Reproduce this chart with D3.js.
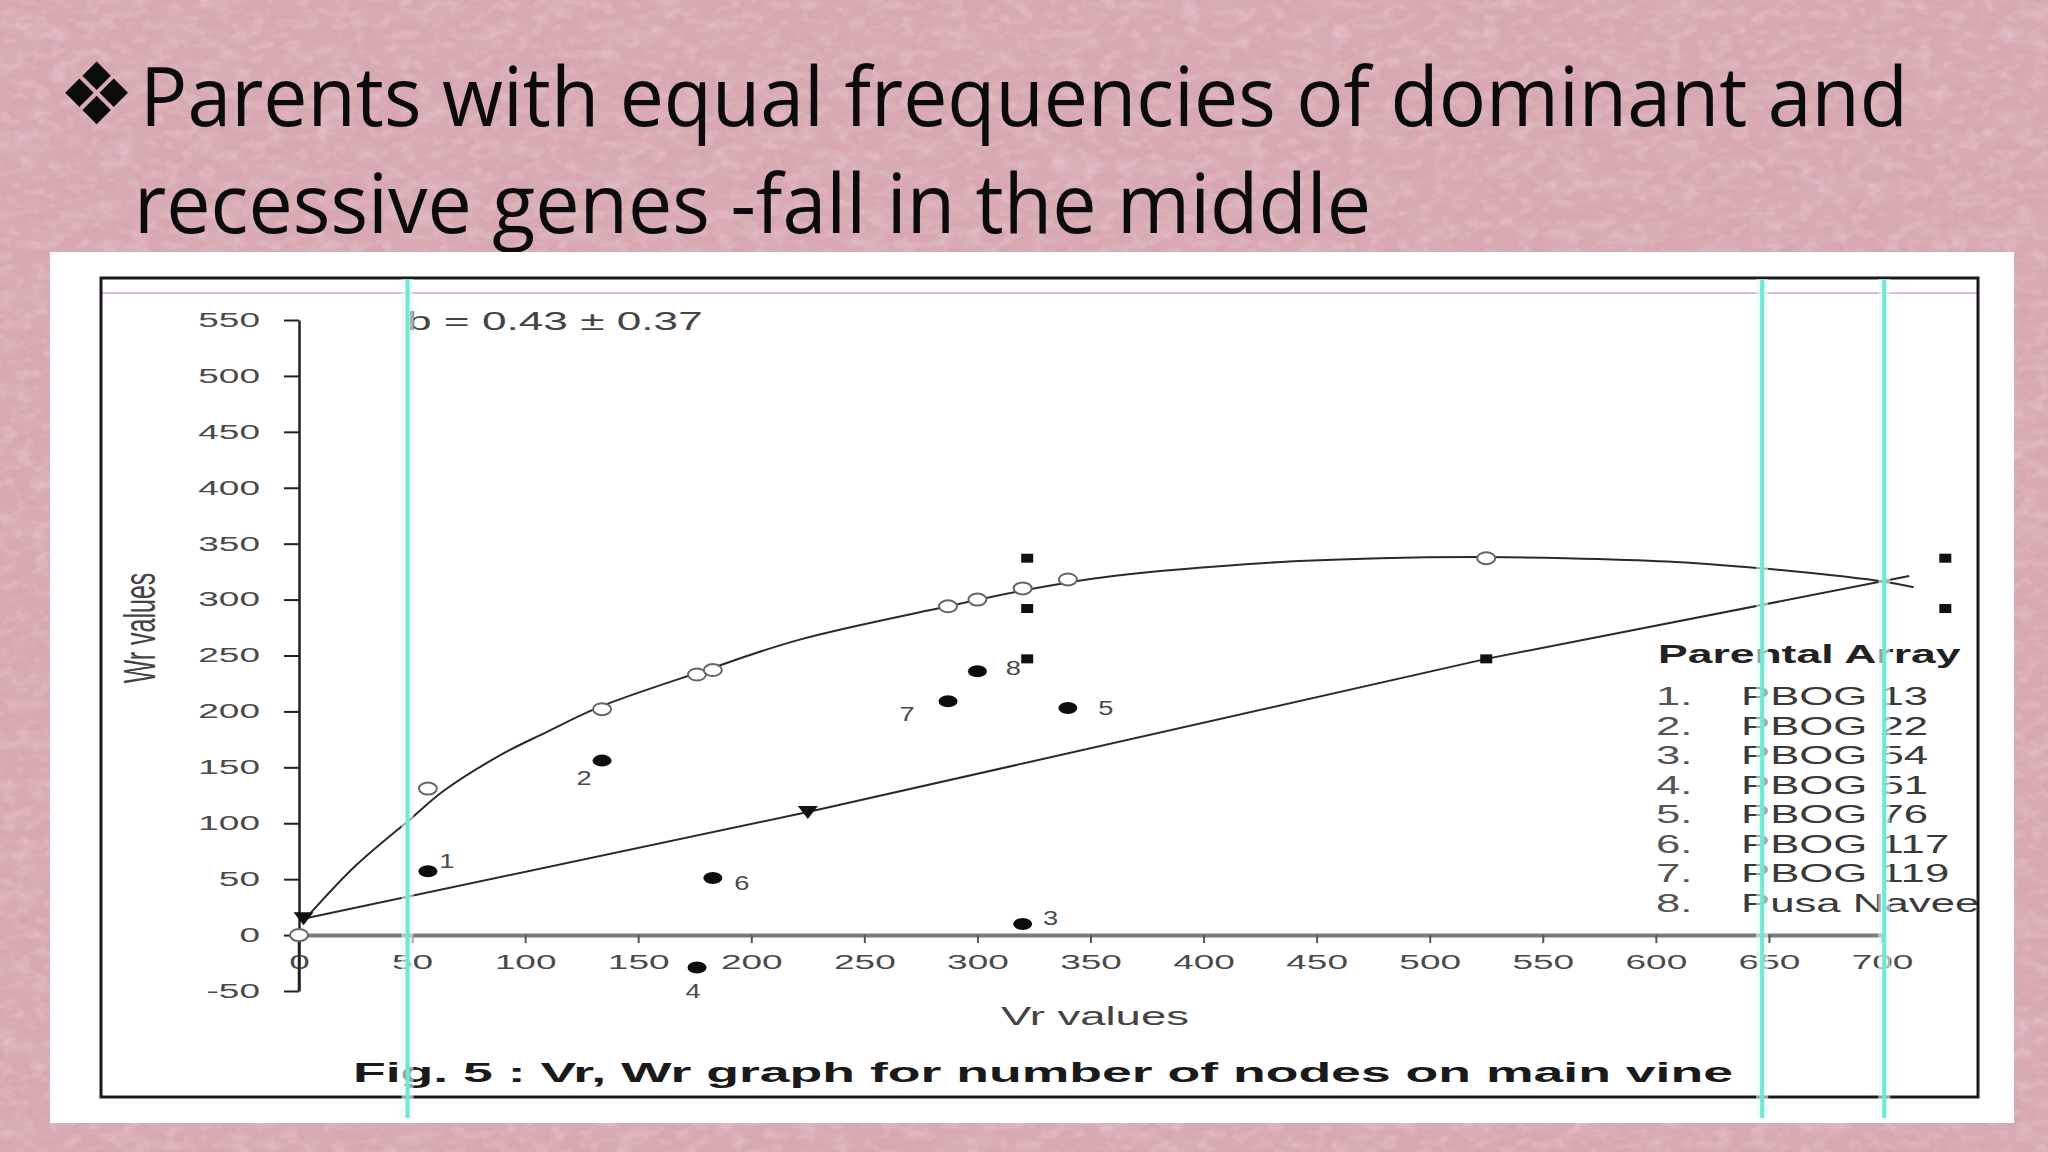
<!DOCTYPE html>
<html>
<head>
<meta charset="utf-8">
<script src="https://cdn.jsdelivr.net/npm/d3@7/dist/d3.min.js"></script>
<style>
  body { margin: 0; background: #d8a7ae; }
  svg { display: block; }
</style>
</head>
<body>
<svg id="slide" width="2048" height="1152"></svg>
<script>
// parents: Vr, Wr (filled dots with their number)
const parentNo = ["1", "2", "3", "4", "5", "6", "7", "8"];
const parentVr = [57, 134, 320, 176, 340, 183, 287, 300];
const parentWr = [57, 156, 10, -29, 203, 51, 209, 236];

// points on the limiting curve (open circles)
const openVr = [0, 57, 134, 176, 183, 287, 300, 320, 340, 525];
const openWr = [0, 131, 202, 233, 237, 294, 300, 310, 318, 337];

// limiting curve
const curveVr = [3, 25, 50, 64, 90, 109, 133, 180, 221, 287, 320, 360, 429, 478, 525, 560, 605, 646, 672, 701, 714];
const curveWr = [15, 62, 105, 129, 162, 181, 204, 237, 264, 294, 308, 321, 333, 337, 338, 337, 334, 328, 323, 316, 311];

// regression line, b = 0.43
const lineVr = [3, 225, 525, 712];
const lineWr = [15, 110, 247, 321];

// filled triangles and squares
const triVr = [2, 225];
const triWr = [15, 110];
const squareVr = [322, 322, 322, 525, 728, 728];
const squareWr = [337, 292, 247, 247, 337, 292];

// the cyan guide lines across the slide
const guideVr = [48, 647, 701];

const xTicks = [0, 50, 100, 150, 200, 250, 300, 350, 400, 450, 500, 550, 600, 650, 700];
const yTicks = [-50, 0, 50, 100, 150, 200, 250, 300, 350, 400, 450, 500, 550];

const legendNo = ["1.", "2.", "3.", "4.", "5.", "6.", "7.", "8."];
const legendName = ["PBOG 13", "PBOG 22", "PBOG 54", "PBOG 51", "PBOG 76", "PBOG 117", "PBOG 119", "Pusa Naveen"];

const titleLines = ["Parents with equal frequencies of dominant and", "recessive genes -fall in the middle"];

// where the number sits next to each parent dot (px)
const labelShift = {
  "1": [19, -11], "2": [-18, 17], "3": [28, -6], "4": [-4, 23],
  "5": [38, 0], "6": [29, 5], "7": [-41, 12], "8": [36, -3]
};

const SX = 1.75; // the pasted figure is stretched sideways
const chartFont = "'Liberation Sans', Arial, sans-serif";

function stretch(sel, sx) {
  sel.attr("transform", function() {
    let t = d3.select(this);
    let x = +t.attr("x") || 0, y = +t.attr("y") || 0;
    return "translate(" + x + "," + y + ") scale(" + sx + ",1) translate(" + (-x) + "," + (-y) + ")";
  });
}

let svg = d3.select("#slide");

// paper background
let defs = svg.append("defs");
let f1 = defs.append("filter").attr("id", "paper").attr("x", 0).attr("y", 0).attr("width", 1).attr("height", 1);
f1.append("feTurbulence").attr("type", "fractalNoise").attr("baseFrequency", "0.02 0.045").attr("numOctaves", 4).attr("seed", 3);
f1.append("feColorMatrix").attr("type", "matrix")
  .attr("values", "0 0 0 0 0.74  0 0 0 0 0.55  0 0 0 0 0.58  1.4 0 0 0 -0.62");
let f2 = defs.append("filter").attr("id", "paper2").attr("x", 0).attr("y", 0).attr("width", 1).attr("height", 1);
f2.append("feTurbulence").attr("type", "fractalNoise").attr("baseFrequency", "0.06 0.1").attr("numOctaves", 3).attr("seed", 9);
f2.append("feColorMatrix").attr("type", "matrix")
  .attr("values", "0 0 0 0 0.94  0 0 0 0 0.8  0 0 0 0 0.83  1.4 0 0 0 -0.62");

svg.append("rect").attr("width", 2048).attr("height", 1152).attr("fill", "#d7a8af");
svg.append("rect").attr("width", 2048).attr("height", 1152).attr("filter", "url(#paper)").attr("opacity", 0.55);
svg.append("rect").attr("width", 2048).attr("height", 1152).attr("filter", "url(#paper2)").attr("opacity", 0.5);

// title
svg.append("text")
  .text("\u2756")
  .attr("x", 58).attr("y", 94)
  .attr("dominant-baseline", "central")
  .style("font-family", "'DejaVu Sans'")
  .style("font-size", "86px")
  .attr("fill", "#0b0b0b");

let titleX = [140, 134], titleY = [126, 233], titleW = [1768, 1237];
svg.selectAll(".title")
  .data(titleLines)
  .join("text")
  .attr("class", "title")
  .text(d => d)
  .attr("x", (d, i) => titleX[i])
  .attr("y", (d, i) => titleY[i])
  .attr("textLength", (d, i) => titleW[i])
  .attr("lengthAdjust", "spacingAndGlyphs")
  .style("font-family", "'Open Sans', sans-serif")
  .style("font-size", "82px")
  .attr("fill", "#0b0b0b");

// pasted figure
svg.append("rect").attr("x", 50).attr("y", 252).attr("width", 1964).attr("height", 871).attr("fill", "#ffffff");

let box = { x: 101, y: 278, w: 1877, h: 819 };
defs.append("clipPath").attr("id", "box")
  .append("rect").attr("x", box.x).attr("y", box.y).attr("width", box.w).attr("height", box.h);

let fig = svg.append("g").attr("clip-path", "url(#box)");

fig.append("line")
  .attr("x1", box.x).attr("x2", box.x + box.w)
  .attr("y1", 293).attr("y2", 293)
  .attr("stroke", "#e2b6dc").attr("stroke-width", 2);

let x = d3.scaleLinear().domain([0, 700]).range([299, 1882]);
let y = d3.scaleLinear().domain([-50, 550]).range([991, 320]);

// axes
let yAxis = fig.append("g")
  .attr("transform", "translate(" + x(0) + ",0)")
  .call(d3.axisLeft(y).tickValues(yTicks).tickFormat(d => String(d))
    .tickSize(15).tickSizeOuter(0).tickPadding(24));
yAxis.select(".domain").attr("stroke", "#222").attr("stroke-width", 2.5);
yAxis.selectAll(".tick line").attr("stroke", "#222").attr("stroke-width", 2);
yAxis.selectAll(".tick text")
  .style("font-family", chartFont).style("font-size", "20px").attr("fill", "#4a4a4a")
  .call(stretch, 1.85);

let xAxis = fig.append("g")
  .attr("transform", "translate(0," + y(0) + ")")
  .call(d3.axisBottom(x).tickValues(xTicks).tickFormat(d => String(d))
    .tickSize(8).tickSizeOuter(0).tickPadding(12));
xAxis.select(".domain").attr("stroke", "#7a7a7a").attr("stroke-width", 4);
xAxis.selectAll(".tick line").attr("stroke", "#555").attr("stroke-width", 2);
xAxis.selectAll(".tick text")
  .style("font-family", chartFont).style("font-size", "20px").attr("fill", "#4a4a4a")
  .call(stretch, 1.85);
// the y axis runs on through the 0 label, as in the picture
fig.append("line")
  .attr("x1", x(0)).attr("x2", x(0)).attr("y1", y(0)).attr("y2", y(-50))
  .attr("stroke", "#222").attr("stroke-width", 2.5);

// curve and regression line
fig.append("path")
  .datum(d3.zip(curveVr, curveWr))
  .attr("d", d3.line().x(d => x(d[0])).y(d => y(d[1])).curve(d3.curveCatmullRom.alpha(0.5)))
  .attr("fill", "none").attr("stroke", "#2a2a2a").attr("stroke-width", 2);
fig.append("path")
  .datum(d3.zip(lineVr, lineWr))
  .attr("d", d3.line().x(d => x(d[0])).y(d => y(d[1])))
  .attr("fill", "none").attr("stroke", "#2a2a2a").attr("stroke-width", 2);

// markers
fig.selectAll(".open")
  .data(d3.zip(openVr, openWr))
  .join("ellipse")
  .attr("class", "open")
  .attr("cx", d => x(d[0])).attr("cy", d => y(d[1]))
  .attr("rx", 9).attr("ry", 6)
  .attr("fill", "#fff").attr("stroke", "#666").attr("stroke-width", 2);

fig.selectAll(".sq")
  .data(d3.zip(squareVr, squareWr))
  .join("rect")
  .attr("class", "sq")
  .attr("x", d => x(d[0]) - 6).attr("y", d => y(d[1]) - 4.5)
  .attr("width", 12).attr("height", 9)
  .attr("fill", "#111");

fig.selectAll(".tri")
  .data(d3.zip(triVr, triWr))
  .join("path")
  .attr("class", "tri")
  .attr("d", d => {
    let cx = x(d[0]), cy = y(d[1]);
    return "M" + (cx - 10) + "," + (cy - 6) + "L" + (cx + 10) + "," + (cy - 6) + "L" + cx + "," + (cy + 7) + "Z";
  })
  .attr("fill", "#111");

let parents = d3.zip(parentNo, parentVr, parentWr);
fig.selectAll(".dot")
  .data(parents)
  .join("ellipse")
  .attr("class", "dot")
  .attr("cx", d => x(d[1])).attr("cy", d => y(d[2]))
  .attr("rx", 9.5).attr("ry", 6)
  .attr("fill", "#0d0d0d");

fig.selectAll(".num")
  .data(parents)
  .join("text")
  .attr("class", "num")
  .text(d => d[0])
  .attr("x", d => x(d[1]) + labelShift[d[0]][0])
  .attr("y", d => y(d[2]) + labelShift[d[0]][1])
  .attr("text-anchor", "middle")
  .attr("dominant-baseline", "central")
  .style("font-family", chartFont).style("font-size", "21px")
  .attr("fill", "#4a4a4a")
  .call(stretch, 1.3);

// axis titles and slope
fig.append("text")
  .text("Wr values")
  .attr("text-anchor", "middle").attr("dominant-baseline", "central")
  .attr("transform", "translate(140,628) scale(" + SX + ",1) rotate(-90)")
  .style("font-family", chartFont).style("font-size", "25px")
  .attr("fill", "#444");

fig.append("text")
  .text("Vr values")
  .attr("x", 1095).attr("y", 1016)
  .attr("text-anchor", "middle").attr("dominant-baseline", "central")
  .style("font-family", chartFont).style("font-size", "26px")
  .attr("fill", "#444")
  .call(stretch, SX);

fig.append("text")
  .text("b = 0.43 \u00b1 0.37")
  .attr("x", 407).attr("y", 330)
  .style("font-family", chartFont).style("font-size", "26px")
  .attr("fill", "#444")
  .call(stretch, 1.7);

// legend
fig.append("text")
  .text("Parental Array")
  .attr("x", 1658).attr("y", 663)
  .style("font-family", chartFont).style("font-size", "25px").style("font-weight", "bold")
  .attr("fill", "#222")
  .call(stretch, 1.78);

let rowY = d3.scaleLinear().domain([0, 7]).range([705, 912]);
fig.selectAll(".lno")
  .data(legendNo)
  .join("text")
  .attr("class", "lno")
  .text(d => d)
  .attr("x", 1656).attr("y", (d, i) => rowY(i))
  .style("font-family", chartFont).style("font-size", "25px")
  .attr("fill", "#555")
  .call(stretch, SX);
fig.selectAll(".lname")
  .data(legendName)
  .join("text")
  .attr("class", "lname")
  .text(d => d)
  .attr("x", 1741).attr("y", (d, i) => rowY(i))
  .style("font-family", chartFont).style("font-size", "25px")
  .attr("fill", "#3a3a3a")
  .call(stretch, SX);

// caption
fig.append("text")
  .text("Fig. 5 : Vr, Wr graph for number of nodes on main vine")
  .attr("x", 353).attr("y", 1082)
  .attr("textLength", 1380).attr("lengthAdjust", "spacingAndGlyphs")
  .style("font-family", chartFont).style("font-size", "28px").style("font-weight", "bold")
  .attr("fill", "#1a1a1a");

// frame
svg.append("rect")
  .attr("x", box.x).attr("y", box.y).attr("width", box.w).attr("height", box.h)
  .attr("fill", "none").attr("stroke", "#1a1a1a").attr("stroke-width", 3);

// cyan guides on top
let guides = svg.append("g");
guides.selectAll(".glow")
  .data(guideVr)
  .join("line")
  .attr("class", "glow")
  .attr("x1", d => x(d)).attr("x2", d => x(d))
  .attr("y1", 279).attr("y2", 1118)
  .attr("stroke", "#e6fbf7").attr("stroke-width", 12).attr("opacity", 0.6);
guides.selectAll(".guide")
  .data(guideVr)
  .join("line")
  .attr("class", "guide")
  .attr("x1", d => x(d)).attr("x2", d => x(d))
  .attr("y1", 279).attr("y2", 1118)
  .attr("stroke", "#72e7d4").attr("stroke-width", 4);
</script>
</body>
</html>
